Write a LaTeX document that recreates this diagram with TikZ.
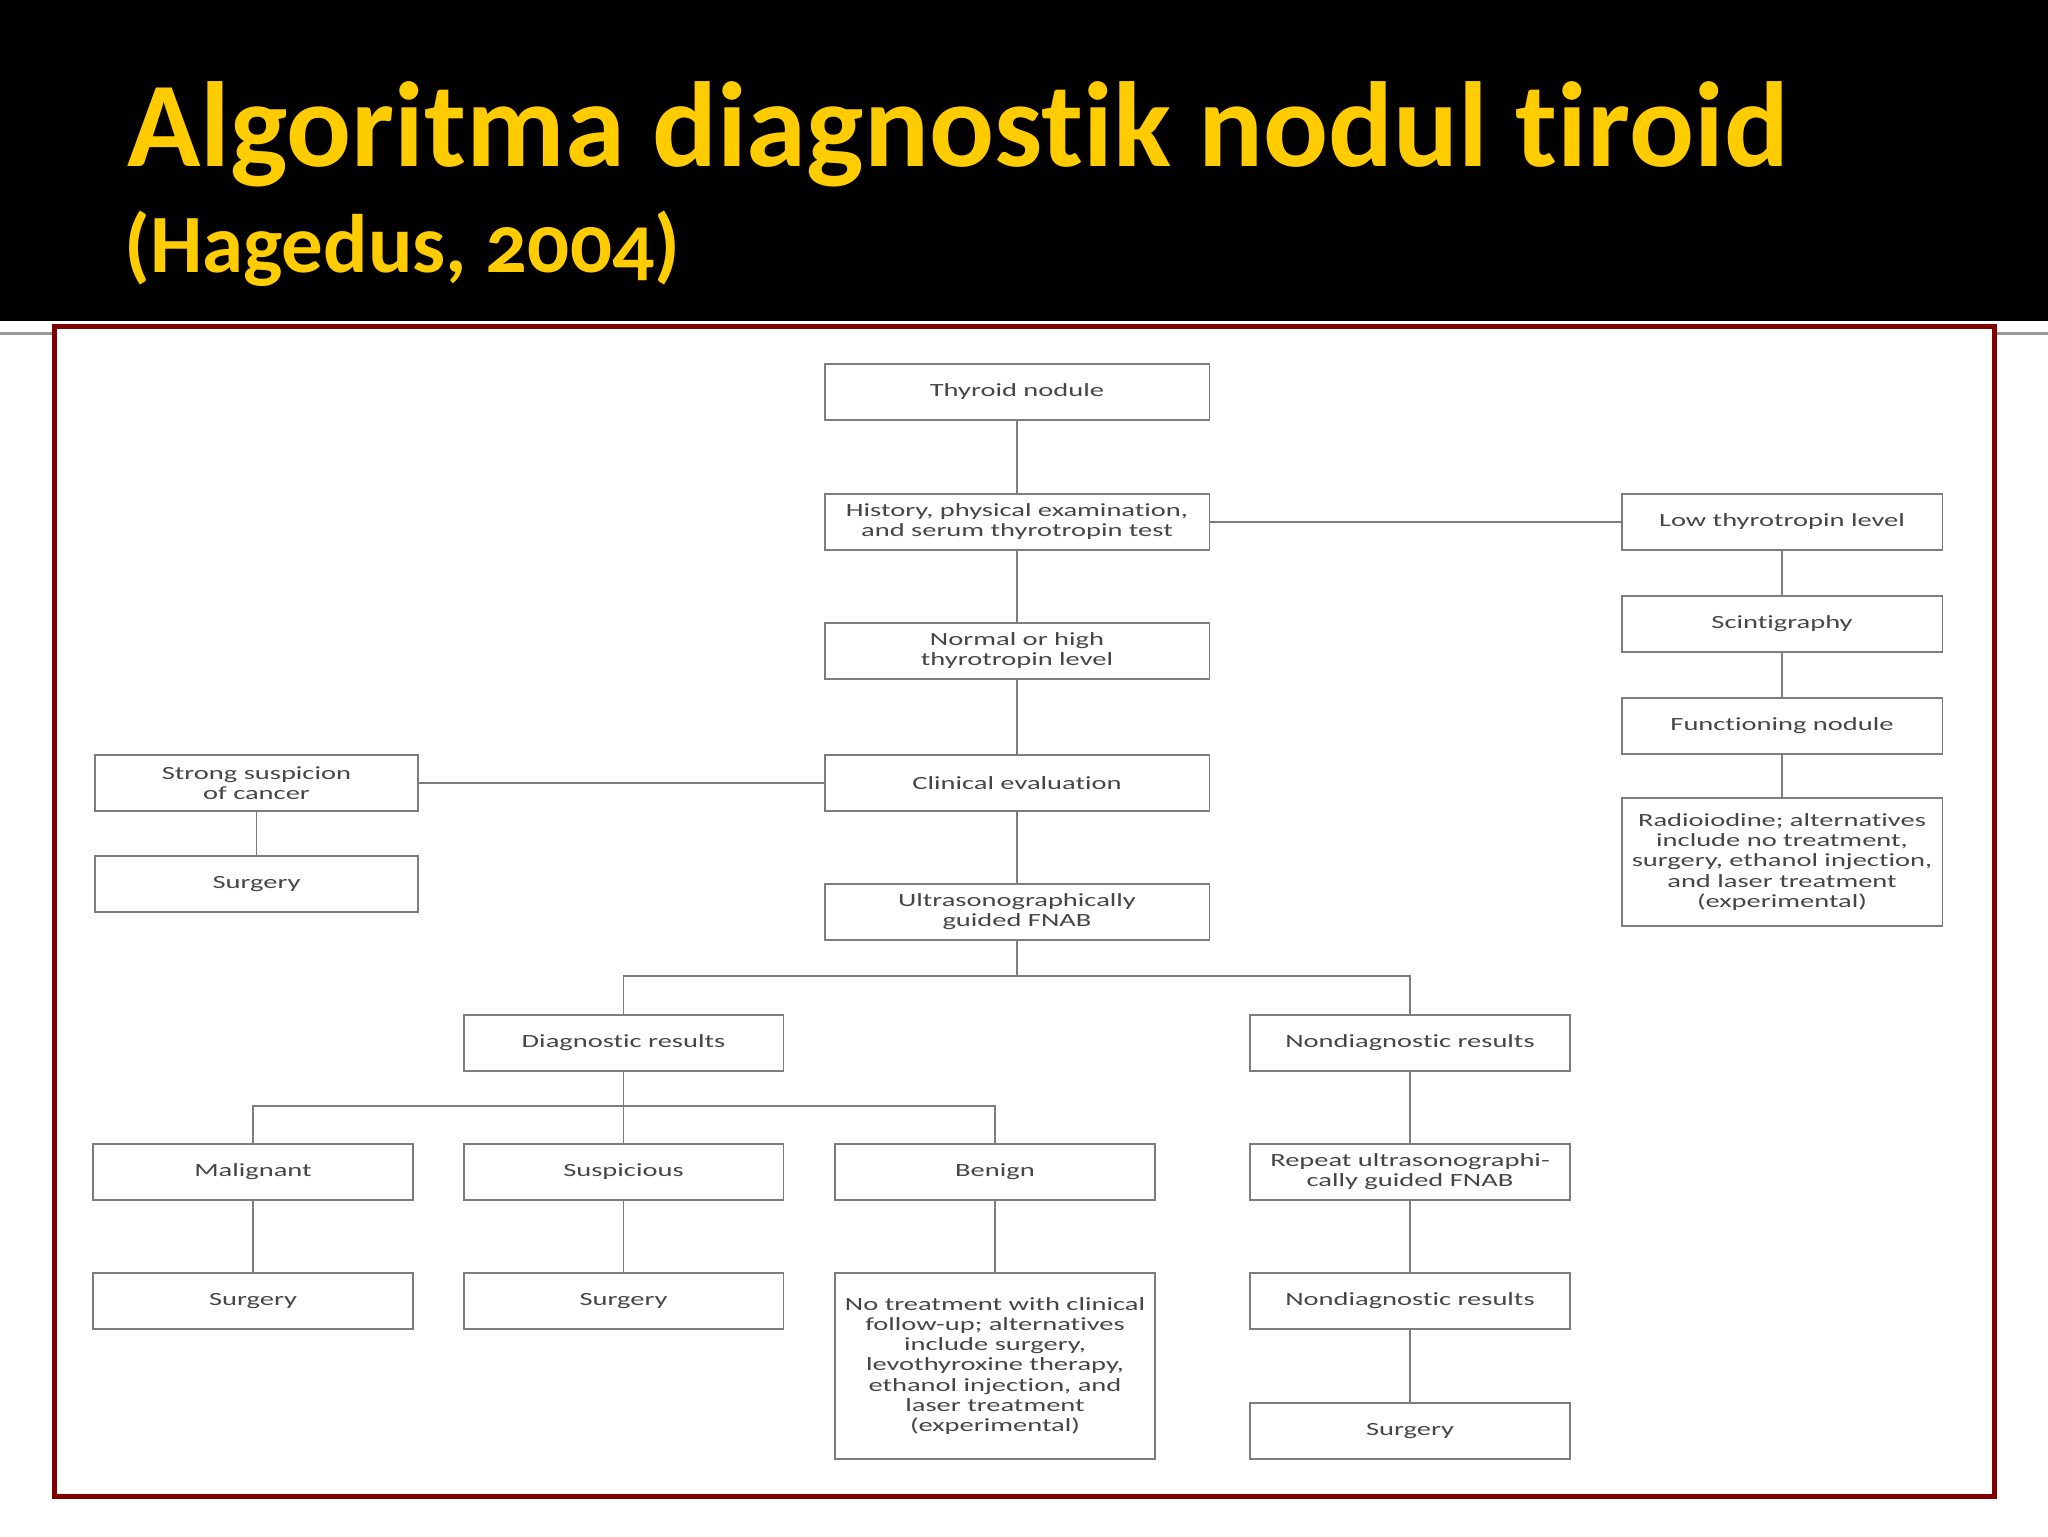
\documentclass[tikz,border=0pt]{standalone}
\usepackage{fontspec}
\setmainfont{Carlito}[Ligatures=NoCommon]
\newfontfamily\boxfont[FakeStretch=1.53,Ligatures=NoCommon]{Carlito}
\newfontfamily\titlefont[Numbers=OldStyle,Ligatures=NoCommon]{Carlito}
\usepackage{xcolor}
\usepackage{tikz}
\definecolor{titleyellow}{RGB}{255,204,0}
\definecolor{framered}{RGB}{128,0,0}
\definecolor{boxgray}{RGB}{125,125,125}
\definecolor{textgray}{RGB}{70,70,70}

\begin{document}
\begin{tikzpicture}[x=0.02cm,y=-0.02cm,
                    box/.style={draw=boxgray,line width=1.1pt,fill=white,minimum width=6.4cm,minimum height=1.12cm,inner sep=0pt,align=center,text=textgray,font=\boxfont\fontsize{10.6}{11.4}\selectfont},
                    wide/.style={box,minimum width=7.7cm},
                    link/.style={draw=boxgray,line width=1.1pt}]
\useasboundingbox (0,0) rectangle (2048,1536);
\fill[white] (0,0) rectangle (2048,1536);
\fill[black] (0,0) rectangle (2048,321);
\draw[gray!80,line width=0.06cm] (0,333) -- (2048,333);
\draw[framered,line width=0.1cm,fill=white] (54,326) rectangle (1994,1496);
\node[anchor=base west,inner sep=0pt,text=titleyellow,font=\titlefont\bfseries\fontsize{68.9}{72}\selectfont] (title) at (127,166) {Algoritma diagnostik nodul tiroid};
\node[anchor=base west,inner sep=0pt,text=titleyellow,font=\titlefont\bfseries\fontsize{47.2}{50}\selectfont] (subtitle) at (124,272) {(Hagedus, 2004)};
\node[wide] (thyroid)  at (1017,392)  {Thyroid nodule};
\node[wide] (history)  at (1017,522)  {History, physical examination,\\and serum thyrotropin test};
\node[wide] (normal)   at (1017,651)  {Normal or high\\thyrotropin level};
\node[wide] (clinical) at (1017,783)  {Clinical evaluation};
\node[wide] (fnab)     at (1017,912)  {Ultrasonographically\\guided FNAB};
\node[box,minimum width=6.42cm] (low)   at (1782,522) {Low thyrotropin level};
\node[box,minimum width=6.42cm] (scint) at (1782,624) {Scintigraphy};
\node[box,minimum width=6.42cm] (func)  at (1782,726) {Functioning nodule};
\node[box,minimum width=6.42cm,minimum height=2.56cm] (radio) at (1782,862) {Radioiodine; alternatives\\include no treatment,\\surgery, ethanol injection,\\and laser treatment\\(experimental)};
\node[box,minimum width=6.46cm] (strong) at (256.5,783) {Strong suspicion\\of cancer};
\node[box,minimum width=6.46cm] (surgA)  at (256.5,884) {Surgery};
\node[box] (diag)     at (623.5,1043) {Diagnostic results};
\node[box] (nondiag)  at (1410,1043)  {Nondiagnostic results};
\node[box] (malig)    at (253,1172)   {Malignant};
\node[box] (susp)     at (623.5,1172) {Suspicious};
\node[box] (benign)   at (995,1172)   {Benign};
\node[box] (repeat)   at (1410,1172)  {Repeat ultrasonographi-\\cally guided FNAB};
\node[box] (surgB)    at (253,1301)   {Surgery};
\node[box] (surgC)    at (623.5,1301) {Surgery};
\node[box,minimum height=3.72cm] (notreat) at (995,1366) {No treatment with clinical\\follow-up; alternatives\\include surgery,\\levothyroxine therapy,\\ethanol injection, and\\laser treatment\\(experimental)};
\node[box] (nondiagB) at (1410,1301)  {Nondiagnostic results};
\node[box] (surgD)    at (1410,1431)  {Surgery};
\coordinate (split1) at (1017,976);
\coordinate (split2) at (623.5,1106);
\draw[link] (thyroid) -- (history);
\draw[link] (history) -- (normal);
\draw[link] (normal) -- (clinical);
\draw[link] (clinical) -- (fnab);
\draw[link] (history) -- (low);
\draw[link] (low) -- (scint);
\draw[link] (scint) -- (func);
\draw[link] (func) -- (radio);
\draw[link] (clinical) -- (strong);
\draw[link] (strong) -- (surgA);
\draw[link] (fnab) -- (split1);
\draw[link] (diag.north) |- (split1) -| (nondiag.north);
\draw[link] (diag) -- (susp);
\draw[link] (malig.north) |- (split2) -| (benign.north);
\draw[link] (malig) -- (surgB);
\draw[link] (susp) -- (surgC);
\draw[link] (benign) -- (notreat);
\draw[link] (nondiag) -- (repeat);
\draw[link] (repeat) -- (nondiagB);
\draw[link] (nondiagB) -- (surgD);
\end{tikzpicture}
\end{document}
